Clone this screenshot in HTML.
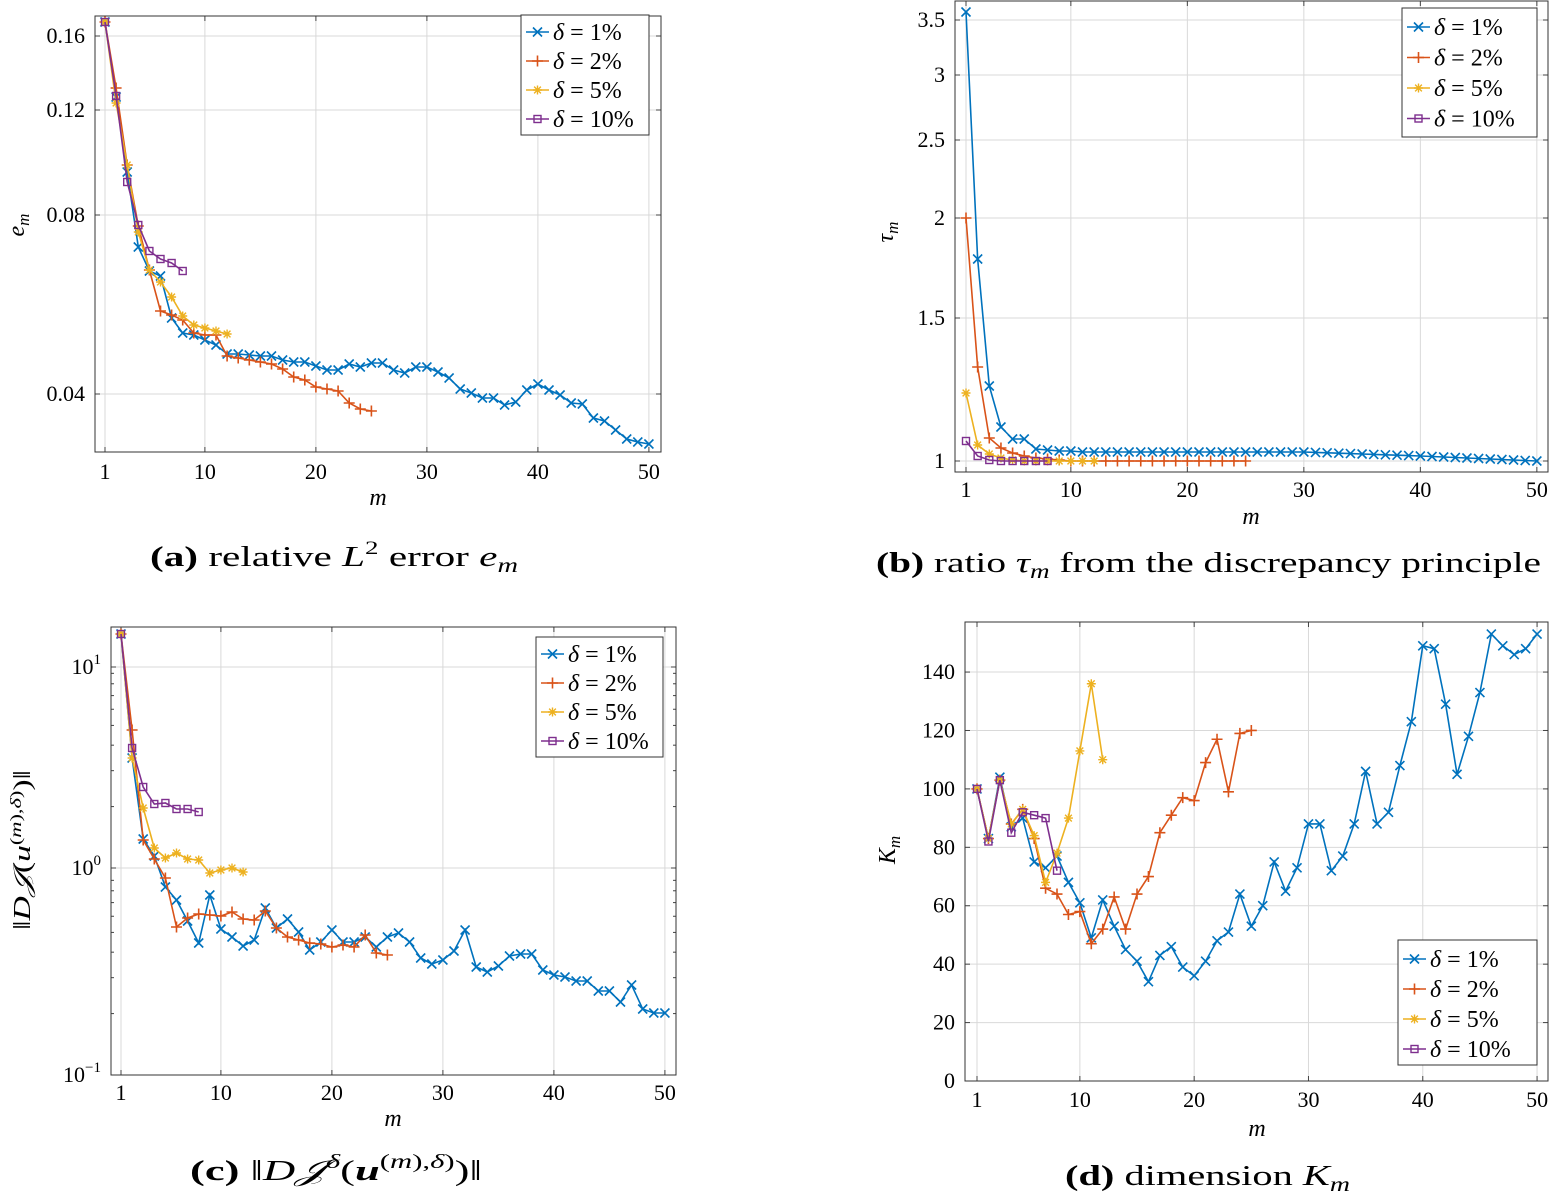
<!DOCTYPE html>
<html><head><meta charset="utf-8">
<style>
html,body{margin:0;padding:0;background:#fff;}
svg{display:block;font-family:"Liberation Serif",serif;}
</style></head>
<body>
<svg id="s" width="1550" height="1193" xmlns="http://www.w3.org/2000/svg"></svg>
<script>
const S=document.getElementById('s');
const NS='http://www.w3.org/2000/svg';
function el(t,a,txt){const e=document.createElementNS(NS,t);for(const k in a)e.setAttribute(k,a[k]);if(txt!==undefined)e.innerHTML=txt;S.appendChild(e);return e;}
const C=['#0072BD','#D95319','#EDB120','#7E2F8E'];
function marker(i,x,y){const c=C[i],s=4.5;
 if(i==0){el('path',{d:`M${x-s} ${y-s}L${x+s} ${y+s}M${x-s} ${y+s}L${x+s} ${y-s}`,stroke:c,'stroke-width':1.6});}
 else if(i==1){el('path',{d:`M${x-s-1} ${y}L${x+s+1} ${y}M${x} ${y-s-1}L${x} ${y+s+1}`,stroke:c,'stroke-width':1.6});}
 else if(i==2){el('path',{d:`M${x-s} ${y}L${x+s} ${y}M${x} ${y-s}L${x} ${y+s}M${x-s*.75} ${y-s*.75}L${x+s*.75} ${y+s*.75}M${x-s*.75} ${y+s*.75}L${x+s*.75} ${y-s*.75}`,stroke:c,'stroke-width':1.4});}
 else {el('rect',{x:x-3.5,y:y-3.5,width:7,height:7,fill:'none',stroke:c,'stroke-width':1.4});}
}
function series(i,xs,ys){let d='';for(let k=0;k<ys.length;k++)d+=(k?'L':'M')+xs(k+1)+' '+ys[k];
 el('path',{d:d,fill:'none',stroke:C[i],'stroke-width':1.6});for(let k=0;k<ys.length;k++)marker(i,xs(k+1),ys[k]);}
function panel(p){
 const {l,r,t,b}=p;
 p.xt.forEach(v=>{const x=p.xm(v);el('line',{x1:x,y1:t,x2:x,y2:b,stroke:'#d9d9d9','stroke-width':1});
   el('text',{x:x,y:p.xly,'font-size':22,'text-anchor':'middle'},v);
   el('line',{x1:x,y1:b,x2:x,y2:b-5,stroke:'#444'});el('line',{x1:x,y1:t,x2:x,y2:t+5,stroke:'#444'});});
 p.yt.forEach(o=>{el('line',{x1:l,y1:o[0],x2:r,y2:o[0],stroke:'#d9d9d9','stroke-width':1});
   el('text',{x:l-10,y:o[0]+7,'font-size':22,'text-anchor':'end'},o[1]);
   el('line',{x1:l,y1:o[0],x2:l+5,y2:o[0],stroke:'#444'});el('line',{x1:r,y1:o[0],x2:r-5,y2:o[0],stroke:'#444'});});
 (p.minor||[]).forEach(y=>{el('line',{x1:l,y1:y,x2:l+3,y2:y,stroke:'#444'});el('line',{x1:r,y1:y,x2:r-3,y2:y,stroke:'#444'});});
 p.data.forEach((ys,i)=>series(i,p.xm,ys));
 el('rect',{x:l,y:t,width:r-l,height:b-t,fill:'none',stroke:'#333','stroke-width':1});
 const L=p.leg;el('rect',{x:L.x,y:L.y,width:L.w,height:L.h,fill:'#fff',stroke:'#333','stroke-width':1});
 ['1%','2%','5%','10%'].forEach((s,i)=>{const y=L.y0+i*L.dy;
  el('line',{x1:L.x+5,y1:y,x2:L.x+28,y2:y,stroke:C[i],'stroke-width':1.6});marker(i,L.x+16.5,y);
  el('text',{x:L.x+32,y:y+8,'font-size':24},'<tspan font-style="italic">δ</tspan> = '+s);});
}
const xa=m=>105+(m-1)*11.1;
const a1=[22,97,172,247,271,276,318,333,335,340,345,354,354,355,356,356,360,362,362,366,370,370,364,367,363,363,370,373,367,367,372,378,389,393,398,398,405,402,390,384,390,395,403,404,418,421,430,439,442,444];
const a2=[22,88,165,226,270,311,315,320,333,335,335,356,358,360,362,364,369,377,380,387,389,391,403,409,411];
const a3=[22,103,165,232,270,282,297,316,325,328,331,334];
const a4=[22,96,182,225,251,259,263,271];
panel({l:95,r:661,t:16,b:452,xm:xa,xt:[1,10,20,30,40,50],xly:479,
 yt:[[36,'0.16'],[110,'0.12'],[215,'0.08'],[394,'0.04']],data:[a1,a2,a3,a4],
 leg:{x:521,y:15,w:128,h:120,y0:32,dy:29}});
el('text',{x:378,y:505,'font-size':24,'font-style':'italic','text-anchor':'middle'},'m');
el('text',{x:0,y:0,'font-size':24,'font-style':'italic','text-anchor':'middle',transform:'translate(24,225) rotate(-90)'},'e<tspan font-size="17" dy="5">m</tspan>');
el('text',{x:150,y:566,'font-size':29,textLength:368,lengthAdjust:'spacingAndGlyphs'},'<tspan font-weight="bold">(a)</tspan> relative <tspan font-style="italic">L</tspan><tspan font-size="19" dy="-12">2</tspan><tspan dy="12"> error </tspan><tspan font-style="italic">e</tspan><tspan font-style="italic" font-size="20" dy="6">m</tspan>');
const xb=m=>966+(m-1)*11.65;
const b1=[12,259,386,427,439,439,449,450,451,451];for(let m=11;m<=50;m++)b1.push(m<=30?452:m<=40?452+(m-30)*0.4:456+(m-40)*0.5);
const b2=[218,367,438,448,453,456,458,459,460];while(b2.length<25)b2.push(461);
const b3=[393,445,454,458,460];while(b3.length<12)b3.push(461);
const b4=[441,456,460,461,461,461,461,461];
panel({l:955,r:1548,t:1,b:472,xm:xb,xt:[1,10,20,30,40,50],xly:497,
 yt:[[20,'3.5'],[75,'3'],[140,'2.5'],[218,'2'],[318,'1.5'],[461,'1']],data:[b1,b2,b3,b4],
 leg:{x:1402,y:8,w:135,h:129,y0:27,dy:30.5}});
el('text',{x:1251,y:524,'font-size':24,'font-style':'italic','text-anchor':'middle'},'m');
el('text',{x:0,y:0,'font-size':24,'font-style':'italic','text-anchor':'middle',transform:'translate(893,232) rotate(-90)'},'τ<tspan font-size="17" dy="5">m</tspan>');
el('text',{x:876,y:572,'font-size':29,textLength:665,lengthAdjust:'spacingAndGlyphs'},'<tspan font-weight="bold">(b)</tspan> ratio <tspan font-style="italic">τ</tspan><tspan font-style="italic" font-size="20" dy="6">m</tspan><tspan dy="-6"> from the discrepancy principle</tspan>');
const xc=m=>121+(m-1)*11.1;
const c1=[634,758,839,856,887,900,921,943,895,929,937,946,940,908,928,919,932,950,942,930,942,942,937,947,937,933,942,958,964,960,951,930,967,972,966,956,954,954,970,975,977,981,981,991,991,1002,985,1009,1013,1013];
const c2=[634,730,840,859,878,927,918,914,915,916,912,919,920,911,928,937,940,943,944,947,945,947,935,953,955];
const c3=[634,758,808,848,858,853,859,860,873,870,868,872];
const c4=[634,748,787,804,803,809,809,812];
const minc=[];[1075,868,667].forEach(y0=>{for(let k=2;k<=9;k++){const y=y0-Math.log10(k)*204;if(y>627)minc.push(y);}});
panel({l:111,r:676,t:627,b:1075,xm:xc,xt:[1,10,20,30,40,50],xly:1100,minor:minc,
 yt:[[667,'10<tspan font-size="15" dy="-10">1</tspan>'],[868,'10<tspan font-size="15" dy="-10">0</tspan>'],[1075,'10<tspan font-size="15" dy="-10">−1</tspan>']],data:[c1,c2,c3,c4],
 leg:{x:536,y:637,w:127,h:120,y0:654,dy:29}});
el('text',{x:393,y:1126,'font-size':24,'font-style':'italic','text-anchor':'middle'},'m');
el('text',{x:0,y:0,'font-size':24,'text-anchor':'middle',transform:'translate(30,850) rotate(-90)',textLength:160,lengthAdjust:'spacingAndGlyphs'},'‖<tspan font-style="italic">D𝒥</tspan>(<tspan font-style="italic">u</tspan><tspan font-size="16" dy="-9">(<tspan font-style="italic">m</tspan>),<tspan font-style="italic">δ</tspan>)</tspan><tspan dy="9">)‖</tspan>');
el('text',{x:190,y:1180,'font-size':29,textLength:292,lengthAdjust:'spacingAndGlyphs'},'<tspan font-weight="bold">(c)</tspan> ‖<tspan font-style="italic">D𝒥</tspan><tspan font-style="italic" font-size="20" dy="-12">δ</tspan><tspan dy="12">(</tspan><tspan font-style="italic" font-weight="bold">u</tspan><tspan font-size="20" dy="-12">(<tspan font-style="italic">m</tspan>),<tspan font-style="italic">δ</tspan>)</tspan><tspan dy="12">)‖</tspan>');
const xd=m=>977+(m-1)*11.43, yd=v=>1081-v*2.921;
const d1=[100,83,104,87,90,75,73,77,68,61,49,62,53,45,41,34,43,46,39,36,41,48,51,64,53,60,75,65,73,88,88,72,77,88,106,88,92,108,123,149,148,129,105,118,133,153,149,146,148,153].map(yd);
const d2=[100,83,103,88,93,83,66,64,57,58,47,52,63,52,64,70,85,91,97,96,109,117,99,119,120].map(yd);
const d3=[100,83,103,88,93,84,68,78,90,113,136,110].map(yd);
const d4=[100,82,103,85,92,91,90,72].map(yd);
panel({l:965,r:1548,t:622,b:1081,xm:xd,xt:[1,10,20,30,40,50],xly:1107,
 yt:[0,20,40,60,80,100,120,140].map(v=>[yd(v),''+v]),data:[d1,d2,d3,d4],
 leg:{x:1398,y:940,w:139,h:125,y0:959,dy:30}});
el('text',{x:1257,y:1136,'font-size':24,'font-style':'italic','text-anchor':'middle'},'m');
el('text',{x:0,y:0,'font-size':24,'font-style':'italic','text-anchor':'middle',transform:'translate(895,850) rotate(-90)'},'K<tspan font-size="17" dy="5">m</tspan>');
el('text',{x:1065,y:1185,'font-size':29,textLength:285,lengthAdjust:'spacingAndGlyphs'},'<tspan font-weight="bold">(d)</tspan> dimension <tspan font-style="italic">K</tspan><tspan font-style="italic" font-size="20" dy="6">m</tspan>');
</script>
</body></html>
